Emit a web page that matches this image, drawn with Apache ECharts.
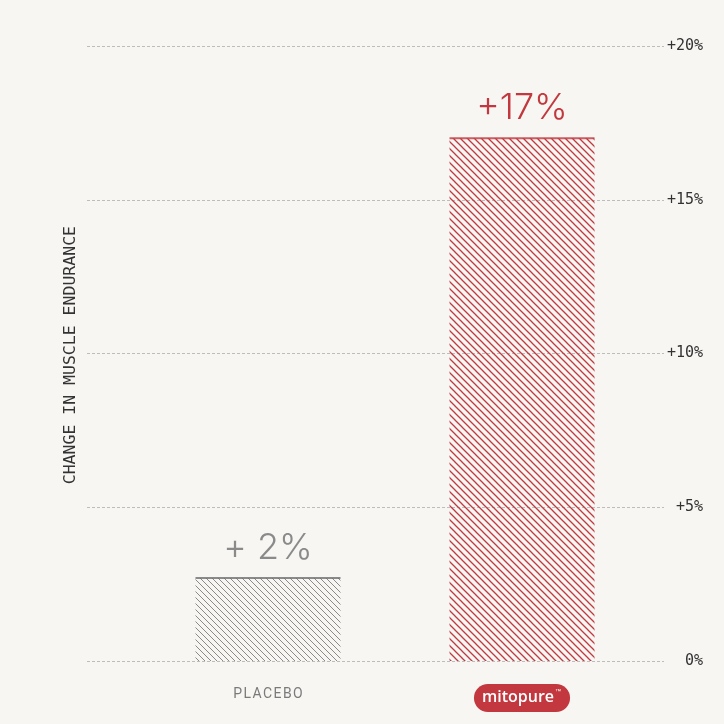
<!DOCTYPE html>
<html>
<head>
<meta charset="utf-8">
<script src="https://cdn.jsdelivr.net/npm/echarts@6/dist/echarts.min.js"></script>
<style>
  html, body { margin: 0; padding: 0; background: #f7f6f3; }
  #chart { width: 724px; height: 724px; }
</style>
</head>
<body>
<div id="chart"></div>
<script>
const categories = ["PLACEBO", "mitopure"];
const values = [2.7, 17];
const valueLabels = ["+ 2%", "+17%"];

// diagonal hatch pattern
function hatch(color, size, w) {
  const c = document.createElement("canvas");
  c.width = size;
  c.height = size;
  const ctx = c.getContext("2d");
  ctx.strokeStyle = color;
  ctx.lineWidth = w;
  ctx.beginPath();
  ctx.moveTo(-1, -1);
  ctx.lineTo(size + 1, size + 1);
  ctx.moveTo(-1, size - 1);
  ctx.lineTo(1, size + 1);
  ctx.moveTo(size - 1, -1);
  ctx.lineTo(size + 1, 1);
  ctx.stroke();
  return c;
}

const grayColor = "#8a8a8a";
const redColor = "#c2383e";

const myChart = echarts.init(document.getElementById("chart"));
myChart.setOption({
  backgroundColor: "#f7f6f3",
  grid: [
    { left: 87, right: 60, top: 46, bottom: 63 },
    { left: 141, right: 75, top: 46, bottom: 63 }
  ],
  xAxis: [
    { gridIndex: 0, type: "value", min: 0, max: 1, show: false },
    {
      gridIndex: 1,
      type: "category",
      data: [
        { value: categories[0] },
        {
          value: categories[1],
          textStyle: {
            backgroundColor: redColor,
            borderRadius: 14,
            padding: [4, 9, 5, 8]
          }
        }
      ],
      axisLine: { show: false },
      axisTick: { show: false },
      axisLabel: {
        margin: 23,
        formatter: function (v) {
          // spread placebo letters a little
          return v === "mitopure" ? "{pill|mitopure}{tm|™}" : "{plain|" + v.split("").join("\u200A") + "}";
        },
        rich: {
          plain: { fontFamily: "Roboto", fontSize: 14, color: "#7a7a7a", padding: [3, 0, 0, 0] },
          pill: { fontFamily: "Open Sans", fontWeight: 600, fontSize: 16, color: "#fff", height: 19 },
          tm: { fontSize: 6, color: "#fff", verticalAlign: "top", padding: [0, 0, 11, 1] }
        }
      }
    }
  ],
  yAxis: [
    {
      gridIndex: 0,
      type: "value",
      position: "right",
      min: 0,
      max: 20,
      interval: 5,
      axisLine: { show: false },
      axisTick: { show: false },
      splitLine: { lineStyle: { color: "#bdbdbd", type: [3, 2], width: 1 } },
      axisLabel: {
        margin: 39,
        align: "right",
        fontFamily: "DejaVu Sans Mono",
        fontSize: 15,
        color: "#333",
        formatter: function (v) { return v === 0 ? "0%" : "+" + v + "%"; }
      }
    },
    { gridIndex: 1, type: "value", min: 0, max: 20, show: false }
  ],
  graphic: [
    {
      type: "text",
      left: 62,
      top: 226,
      rotation: Math.PI / 2,
      style: {
        text: "CHANGE IN MUSCLE ENDURANCE",
        font: "16.5px 'DejaVu Sans Mono'",
        fill: "#333"
      }
    }
  ],
  series: [
    {
      type: "bar",
      xAxisIndex: 1,
      yAxisIndex: 1,
      barWidth: 145,
      data: values.map(function (v, i) {
        const col = i === 0 ? grayColor : redColor;
        return {
          value: v,
          itemStyle: {
            color: {
              image: i === 0 ? hatch(col, 6, 1) : hatch(col, 7, 1.3),
              repeat: "repeat"
            }
          },
          label: { color: col, formatter: valueLabels[i] }
        };
      }),
      label: {
        show: true,
        position: "top",
        distance: 12,
        fontFamily: "Inter",
        fontWeight: 300,
        fontSize: 36
      }
    },
    {
      // top edge of each bar
      type: "scatter",
      xAxisIndex: 1,
      yAxisIndex: 1,
      symbol: "rect",
      symbolSize: [145, 2],
      silent: true,
      data: values.map(function (v, i) {
        return { value: [categories[i], v], itemStyle: { color: i === 0 ? "#6f6f6f" : redColor } };
      })
    }
  ]
});
</script>
</body>
</html>
